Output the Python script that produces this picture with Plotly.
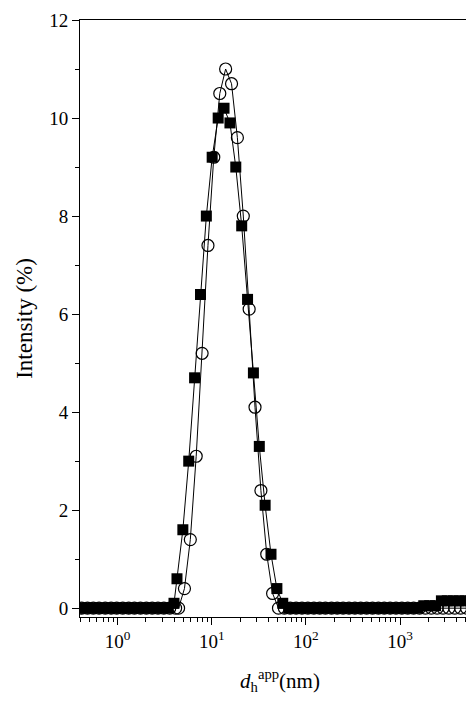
import plotly.graph_objects as go

# DLS size bins (nm), 16 per decade
d_nm = [0.40, 0.46, 0.53, 0.61, 0.71, 0.82, 0.94, 1.09, 1.26, 1.45, 1.68, 1.94, 2.24, 2.58, 2.98, 3.44,
        3.97, 4.27, 4.93, 5.69, 6.57, 7.59, 8.76, 10.1, 11.7, 13.5, 15.6, 18.0, 20.8, 24.0, 27.7, 32.0,
        36.9, 42.6, 49.2, 56.8, 65.6, 75.7, 87.4, 101, 117, 135, 155, 180, 207, 239, 276, 319,
        368, 425, 491, 567, 654, 755, 872, 1007, 1162, 1342, 1550, 1789, 2066, 2385, 2754, 3180,
        3672, 4240, 4895, 5652, 6526]

squares = [0] * 16 + [0.1, 0.6, 1.6, 3.0, 4.7, 6.4, 8.0, 9.2, 10.0, 10.2, 9.9, 9.0, 7.8, 6.3, 4.8, 3.3,
           2.1, 1.1, 0.4, 0.1] + [0] * 23 + [0.05, 0.05, 0.05, 0.15, 0.15, 0.15, 0.15, 0.15, 0.15, 0.15]
circles = [0] * 16 + [0.0, 0.0, 0.4, 1.4, 3.1, 5.2, 7.4, 9.2, 10.5, 11.0, 10.7, 9.6, 8.0, 6.1, 4.1, 2.4,
           1.1, 0.3, 0.0, 0.0] + [0] * 33
d_circ = [v * 1.04 for v in d_nm]

fig = go.Figure()
fig.add_trace(go.Scatter(x=d_circ, y=circles, mode="lines+markers",
                         line=dict(color="black", width=1),
                         marker=dict(symbol="circle-open", size=12, color="black", line=dict(width=1.2))))
fig.add_trace(go.Scatter(x=d_nm, y=squares, mode="lines+markers",
                         line=dict(color="black", width=1),
                         marker=dict(symbol="square", size=11, color="black")))

fig.update_layout(
    width=474, height=714, showlegend=False,
    plot_bgcolor="white", paper_bgcolor="white",
    margin=dict(l=72, r=2, t=12, b=105),
    font=dict(family="Liberation Serif", size=19, color="black"),
)
fig.update_xaxes(type="log", range=[-0.4, 3.85], showgrid=False, zeroline=False,
                 showline=True, linecolor="black", mirror=True,
                 ticks="outside", ticklen=7, tickcolor="black",
                 tickvals=[1, 10, 100, 1000],
                 ticktext=["10<sup>0</sup>", "10<sup>1</sup>", "10<sup>2</sup>", "10<sup>3</sup>"],
                 minor=dict(ticks="outside", ticklen=4, tickcolor="black",
                            tickvals=[v * m for v in [0.1, 1, 10, 100, 1000] for m in range(2, 10)]),
                 title=dict(text="<i>d</i><sub>h</sub><sup>app</sup>(nm)", standoff=22,
                            font=dict(size=21)))
fig.update_yaxes(range=[-0.18, 12], showgrid=False, zeroline=False,
                 showline=True, linecolor="black", mirror=True,
                 ticks="outside", ticklen=7, tickcolor="black", dtick=2,
                 minor=dict(ticks="outside", ticklen=4, tickcolor="black", dtick=1),
                 title=dict(text="Intensity (%)", standoff=10))

fig.write_html("out.html")
